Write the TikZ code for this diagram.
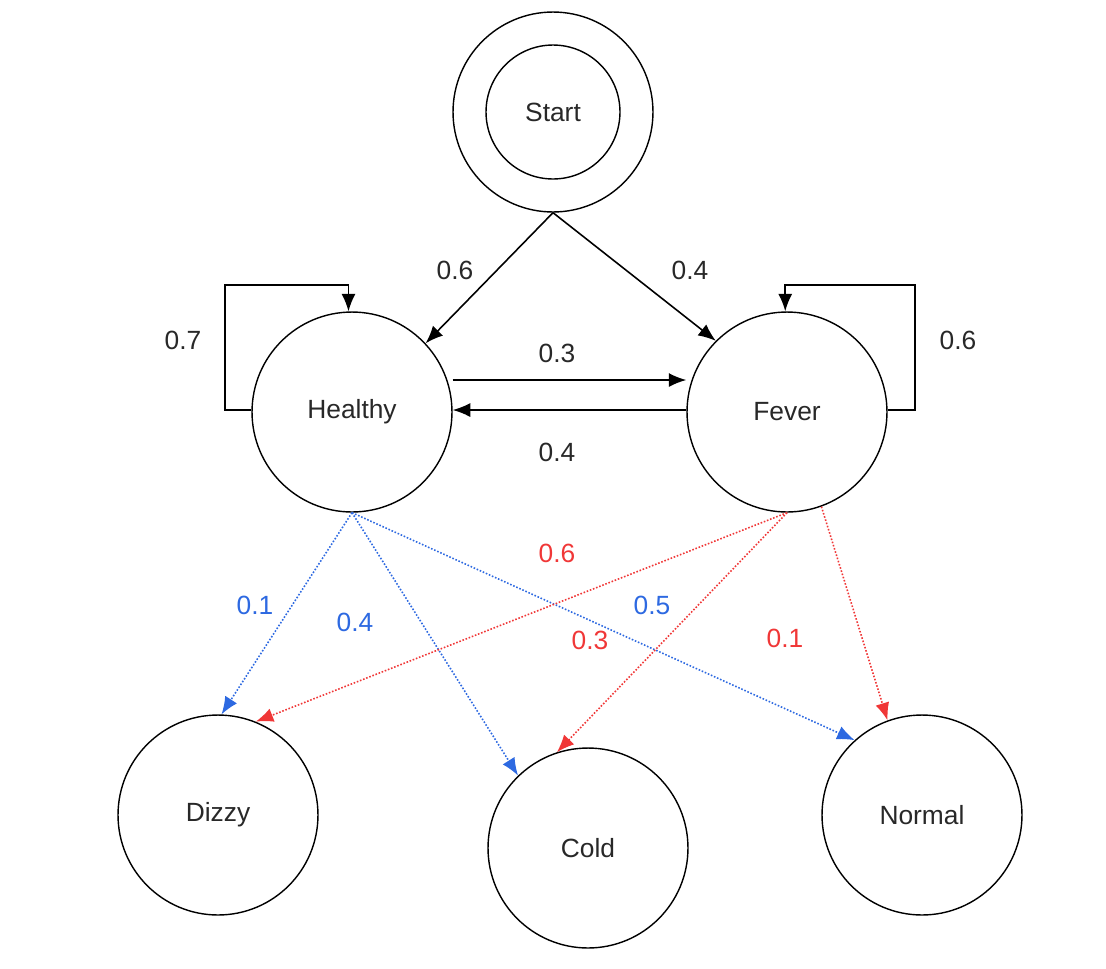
\documentclass[tikz,border=0pt]{standalone}
\usepackage{fontspec}
\setmainfont{Liberation Sans}
\usetikzlibrary{arrows.meta}
\definecolor{eblue}{RGB}{45,105,225}
\definecolor{ered}{RGB}{240,55,55}
\definecolor{txt}{RGB}{40,40,40}
\begin{document}
\begin{tikzpicture}[x=0.02cm,y=-0.02cm,
  st/.style={circle,draw,line width=0.8pt,minimum size=4cm,inner sep=0pt,text=txt,font=\fontsize{15}{18}\selectfont},
  lb/.style={text=txt,font=\fontsize{15}{18}\selectfont},
  arr/.style={line width=0.9pt,-{Latex[length=10pt,width=8pt]}},
  bl/.style={eblue,densely dotted,line width=0.9pt,-{Latex[length=10pt,width=8pt]}},
  rd/.style={ered,densely dotted,line width=0.9pt,-{Latex[length=10pt,width=8pt]}}]
\useasboundingbox (0,0) rectangle (1106,968);
\node[st] (s) at (553,112) {};
\node[circle,draw,line width=0.8pt,minimum size=2.68cm,text=txt,font=\fontsize{15}{18}\selectfont] (si) at (553,112) {Start};
\node[st] (h) at (352,412) {Healthy};
\node[st] (f) at (787,412) {Fever};
\node[st] (d) at (218,815) {Dizzy};
\node[st] (c) at (588,848) {Cold};
\node[st] (n) at (922,815) {Normal};
\draw[arr] (s.270) -- (h.43);
\draw[arr] (s.270) -- (f.135);
\draw[arr] ([yshift=32*0.02cm]h.east) -- ([yshift=32*0.02cm]f.west);
\draw[arr] ([yshift=2*0.02cm]f.west) -- ([yshift=2*0.02cm]h.east);
\coordinate (hl) at (225,285);
\coordinate (fl) at (915,285);
\draw[arr] ([yshift=2*0.02cm]h.west) -| (hl) -| (h.92);
\draw[arr] ([yshift=2*0.02cm]f.east) -| (fl) -| (f.91);
\draw[bl] (h.270) -- (d.88);
\draw[bl] (h.270) -- (c.134);
\draw[bl] (h.270) -- (n.132);
\draw[rd] (f.270) -- (d.68);
\draw[rd] (f.270) -- (c.108);
\draw[rd] (f.290) -- (n.110);
\node[lb] (l1) at (455,270) {0.6};
\node[lb] (l2) at (690,270) {0.4};
\node[lb] (l3) at (183,340) {0.7};
\node[lb] (l4) at (958,340) {0.6};
\node[lb] (l5) at (557,353) {0.3};
\node[lb] (l6) at (557,452) {0.4};
\node[lb,text=eblue] (l7) at (255,605) {0.1};
\node[lb,text=eblue] (l8) at (355,622) {0.4};
\node[lb,text=eblue] (l9) at (652,605) {0.5};
\node[lb,text=ered] (l10) at (557,553) {0.6};
\node[lb,text=ered] (l11) at (590,640) {0.3};
\node[lb,text=ered] (l12) at (785,638) {0.1};
\end{tikzpicture}
\end{document}
